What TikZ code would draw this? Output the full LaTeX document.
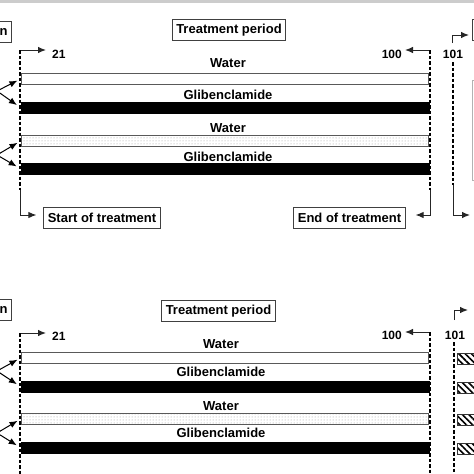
\documentclass[tikz,border=0pt]{standalone}
\usepackage{fontspec}
\setmainfont{Liberation Sans}
\usetikzlibrary{shapes,arrows,arrows.meta,positioning,fit,backgrounds,calc,patterns,patterns.meta}

\begin{document}
\begin{tikzpicture}[x=1pt,y=-1pt,
  tagbox/.style={draw=black!75, line width=0.9pt, inner xsep=4pt, minimum height=21pt, font=\fontsize{13}{14}\selectfont\bfseries},
  barlabel/.style={font=\fontsize{13}{14}\selectfont\bfseries, inner sep=0pt},
  daylabel/.style={font=\fontsize{12}{13}\selectfont\bfseries, inner sep=0pt},
  waterbar/.style={draw=black!65, line width=1pt, fill=white, anchor=north west, inner sep=0pt, minimum height=10.5pt},
  dotbar/.style={waterbar, pattern=dots, pattern color=black!40},
  drugbar/.style={fill=black, anchor=north west, inner sep=0pt, minimum height=11.5pt},
  hatchbar/.style={draw=black!80, line width=0.9pt, anchor=north west, inner sep=0pt, minimum height=10.5pt, minimum width=30pt, pattern={Lines[angle=-45,distance=4.5pt,line width=1.6pt]}},
  marker/.style={black!85, line width=1pt, -{Latex[length=8pt,width=6.5pt]}},
  dayline/.style={line width=2pt, dash pattern=on 3.5pt off 2pt},
  fan/.style={line width=1pt, -{Latex[length=8pt,width=6.5pt]}}]
\clip (0,0) rectangle (474,474);
\fill[black!20] (0,0) rectangle (474,2.5);

% ---------- upper panel ----------
\node[tagbox, text width=36pt, align=right, anchor=east] (pre1) at (12,31.5) {n};
\node[tagbox] (treat1) at (229,30) {Treatment period};
\node[tagbox, minimum width=30pt, anchor=west] (post1) at (472,30) {};
\node[draw=black!30, line width=1pt, minimum width=30pt, minimum height=100pt, anchor=north west] (post1b) at (472,80) {};

% bars
\foreach \row/\ytop/\sty/\len in {w1/73/waterbar/407, g1/102/drugbar/409, w2/135/dotbar/407, g2/163/drugbar/409}
  \node[\sty, minimum width=\len pt] (top\row) at (21,\ytop) {};
\foreach \row/\y/\txt in {w1/63/Water, g1/95/Glibenclamide, w2/128/Water, g2/157/Glibenclamide}
  \node[barlabel] (ltop\row) at (228,\y) {\txt};

% groups
\coordinate (fa1) at (-3,91);
\coordinate (fa2) at (-3,155);
\draw[fan, shorten >=4pt] (fa1) -- (topw1.west);
\draw[fan, shorten >=5pt] (fa1) -- (topg1.west);
\draw[fan, shorten >=4pt] (fa2) -- (topw2.west);
\draw[fan, shorten >=5pt] (fa2) -- (topg2.west);

% day 21
\coordinate (t21) at (20,50);
\coordinate (b21) at (20,190);
\node[daylabel, anchor=west] (n21a) at (52,54) {21};
\draw[marker, shorten >=6pt] (t21) -- (t21 -| n21a.west);
\draw[dayline] (t21) -- (b21);
\node[tagbox] (start1) at (102,217.5) {Start of treatment};
\draw[marker, shorten >=7pt] (b21) |- ([yshift=2.5pt]start1.west);

% day 100
\coordinate (t100) at (430,50);
\coordinate (b100) at (430,190);
\node[daylabel, anchor=east] (n100a) at (402,54) {100};
\draw[marker, shorten >=3pt] (t100) -- (t100 -| n100a.east);
\draw[dayline] (t100) -- (b100);
\node[tagbox] (end1) at (349.5,217.5) {End of treatment};
\draw[marker, shorten >=10pt] (b100) |- ([yshift=2.5pt]end1.east);

% day 101
\node[daylabel] (n101a) at (453,54) {101};
\coordinate (u101) at (452,43);
\coordinate (b101) at (453,185);
\coordinate (e101) at (470,215);
\draw[marker, shorten >=3pt] (u101) |- ([yshift=-5pt]post1.west);
\draw[dayline] (453,62) -- (b101);
\draw[marker] (b101) |- (e101);

% ---------- lower panel ----------
\node[tagbox, text width=36pt, align=right, anchor=east] (pre2) at (12,310) {n};
\node[tagbox] (treat2) at (218.5,311) {Treatment period};

% bars
\foreach \row/\ytop/\sty/\len in {w1/352/waterbar/407, g1/381/drugbar/409, w2/413/dotbar/407, g2/442/drugbar/409}
  \node[\sty, minimum width=\len pt] (bot\row) at (21,\ytop) {};
\foreach \row/\y/\txt in {w1/344/Water, g1/372/Glibenclamide, w2/406/Water, g2/433/Glibenclamide}
  \node[barlabel] (lbot\row) at (221,\y) {\txt};
\foreach \row/\ytop in {w1/353, g1/382, w2/414, g2/443}
  \node[hatchbar] (hbot\row) at (457,\ytop) {};

% groups
\coordinate (fb1) at (-3,371);
\coordinate (fb2) at (-3,433);
\draw[fan, shorten >=4pt] (fb1) -- (botw1.west);
\draw[fan, shorten >=5pt] (fb1) -- (botg1.west);
\draw[fan, shorten >=4pt] (fb2) -- (botw2.west);
\draw[fan, shorten >=5pt] (fb2) -- (botg2.west);

% day 21
\coordinate (s21) at (20,333);
\node[daylabel, anchor=west] (n21b) at (52,336) {21};
\draw[marker, shorten >=6pt] (s21) -- (s21 -| n21b.west);
\draw[dayline] (s21) -- (20,480);

% day 100
\coordinate (s100) at (430,332);
\node[daylabel, anchor=east] (n100b) at (402,335) {100};
\draw[marker, shorten >=3pt] (s100) -- (s100 -| n100b.east);
\draw[dayline] (s100) -- (430,480);

% day 101
\node[daylabel] (n101b) at (455,335) {101};
\coordinate (s101) at (454,320);
\coordinate (r101) at (468,310);
\draw[marker] (s101) |- (r101);
\draw[dayline] (454,342) -- (454,480);
\end{tikzpicture}
\end{document}
